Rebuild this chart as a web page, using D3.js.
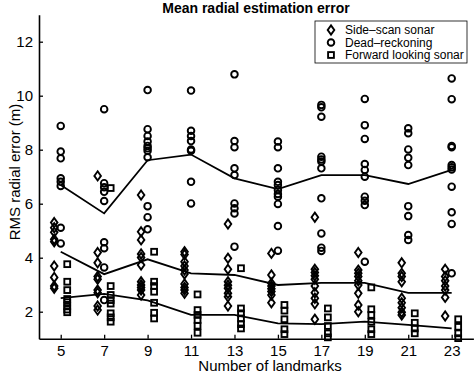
<!DOCTYPE html>
<html>
<head>
<meta charset="utf-8">
<script src="https://cdn.jsdelivr.net/npm/d3@7"></script>
<style>
body { margin: 0; background: #fff; }
text { font-family: "Liberation Sans", Arial, sans-serif; }
</style>
</head>
<body>
<script>
// landmark counts on the x axis
let landmarks = [5, 7, 9, 11, 13, 15, 17, 19, 21, 23];
let xTicks = [5, 7, 9, 11, 13, 15, 17, 19, 21, 23];
let yTicks = [2, 4, 6, 8, 10, 12];

// individual runs, one list per landmark count
let sideScan = [
  [5.30, 5.11, 4.94, 4.68, 4.59, 3.69, 3.27, 2.95, 2.87],
  [7.03, 4.19, 3.81, 3.30, 3.20, 2.80, 2.70, 2.21, 2.06],
  [6.32, 4.96, 4.66, 4.14, 4.01, 3.73, 3.11, 2.99, 2.90, 2.80, 2.62],
  [4.22, 4.12, 3.85, 3.69, 3.54, 3.40, 3.03, 2.90, 2.80, 2.68],
  [5.25, 3.98, 3.57, 3.11, 2.98, 2.87, 2.68, 2.55, 2.21],
  [4.16, 3.36, 3.05, 2.95, 2.85, 2.75, 2.62, 2.33],
  [5.50, 3.57, 3.45, 3.33, 3.20, 2.95, 2.70, 2.50, 2.29, 1.72],
  [4.19, 3.54, 3.42, 3.30, 3.15, 2.99, 2.68, 2.25, 2.00],
  [3.81, 3.42, 3.30, 3.11, 2.50, 2.33, 2.15, 1.98, 1.88],
  [3.57, 3.30, 3.15, 2.95, 2.80, 2.53, 1.84]
];
let deadReckoning = [
  [8.88, 7.93, 7.68, 6.94, 6.81, 6.66, 5.11, 4.53],
  [9.50, 6.76, 6.61, 6.44, 6.10, 4.57, 4.35, 3.64, 2.43],
  [10.21, 8.76, 8.51, 8.30, 8.14, 8.05, 7.96, 7.72, 5.91, 5.50, 5.05],
  [10.19, 8.70, 8.51, 8.32, 8.01, 7.96, 6.81, 6.01],
  [10.79, 8.32, 8.09, 7.31, 7.06, 6.01, 5.83, 5.64, 4.41],
  [8.30, 8.09, 7.31, 6.81, 6.69, 6.51, 6.36, 6.26, 5.99, 5.17, 4.26],
  [9.66, 9.57, 9.22, 7.74, 7.64, 7.56, 7.31, 6.20, 4.90, 4.37, 4.25],
  [9.88, 8.91, 8.40, 7.47, 7.25, 7.00, 6.26, 6.11, 5.95, 3.85],
  [8.79, 8.61, 8.01, 7.70, 7.43, 5.91, 5.54, 4.84, 4.66],
  [10.64, 9.87, 8.14, 8.09, 7.43, 7.35, 7.27, 6.63, 5.68, 5.25, 3.42]
];
let forwardLooking = [
  [3.76, 3.11, 2.80, 2.47, 2.35, 2.21, 2.08, 1.98],
  [6.58, 2.95, 2.62, 2.43, 2.30, 1.94, 1.79, 1.63],
  [4.22, 3.11, 2.95, 2.74, 2.33, 1.96, 1.75],
  [2.64, 2.06, 1.88, 1.69, 1.48, 1.22],
  [3.61, 2.12, 1.94, 1.75, 1.54, 1.38],
  [2.25, 2.04, 1.72, 1.35, 1.17],
  [2.12, 1.79, 1.47, 1.20, 1.05],
  [2.90, 2.09, 1.88, 1.63, 1.35, 1.17],
  [1.94, 1.59, 1.38, 1.20],
  [1.72, 1.44, 1.20, 1.02]
];

// mean curves
let meanDeadReckoning = [6.69, 5.64, 7.61, 7.82, 6.94, 6.54, 7.06, 7.06, 6.73, 7.25];
let meanSideScan = [4.22, 3.39, 3.94, 3.42, 3.36, 2.99, 3.07, 3.07, 2.70, 2.70];
let meanForward = [2.50, 2.66, 2.42, 1.88, 1.88, 1.57, 1.54, 1.63, 1.51, 1.38];

let legendNames = ["Side\u2013scan sonar", "Dead\u2013reckoning", "Forward looking sonar"];

let svg = d3.select("body").append("svg")
  .attr("width", 474)
  .attr("height", 373);

let x = d3.scaleLinear().domain([4, 24]).range([39, 473.4]);
let y = d3.scaleLinear().domain([1, 13]).range([338.7, 14.7]);

// axes, ticks pointing inward
let xAxis = svg.append("g")
  .attr("transform", "translate(0," + y(1) + ")")
  .call(d3.axisBottom(x).tickValues(xTicks).tickSizeInner(-4).tickSizeOuter(0).tickPadding(7));
let yAxis = svg.append("g")
  .attr("transform", "translate(" + x(4) + ",0)")
  .call(d3.axisLeft(y).tickValues(yTicks).tickSizeInner(-4).tickSizeOuter(0).tickPadding(6));

[xAxis, yAxis].forEach(function (g) {
  g.select(".domain").attr("stroke", "#000").attr("stroke-width", 1.6);
  g.selectAll(".tick line").attr("stroke", "#000").attr("stroke-width", 1.3);
  g.selectAll(".tick text")
    .style("font-family", "'Liberation Sans', Arial, sans-serif")
    .style("font-size", "15px")
    .attr("fill", "#000");
});

function addDiamond(cx, cy) {
  svg.append("path")
    .attr("d", "M" + cx + "," + (cy - 4.6) + "L" + (cx + 3.3) + "," + cy +
      "L" + cx + "," + (cy + 4.6) + "L" + (cx - 3.3) + "," + cy + "Z")
    .attr("fill", "none")
    .attr("stroke", "#000")
    .attr("stroke-width", 1.9);
}

function addCircle(cx, cy) {
  svg.append("circle")
    .attr("cx", cx)
    .attr("cy", cy)
    .attr("r", 3.3)
    .attr("fill", "none")
    .attr("stroke", "#000")
    .attr("stroke-width", 1.9);
}

function addSquare(cx, cy) {
  svg.append("rect")
    .attr("x", cx - 2.9)
    .attr("y", cy - 2.9)
    .attr("width", 5.8)
    .attr("height", 5.8)
    .attr("fill", "none")
    .attr("stroke", "#000")
    .attr("stroke-width", 1.9);
}

for (let i = 0; i < landmarks.length; i++) {
  sideScan[i].forEach(function (v) { addDiamond(x(landmarks[i] - 0.3), y(v)); });
  deadReckoning[i].forEach(function (v) { addCircle(x(landmarks[i]), y(v)); });
  forwardLooking[i].forEach(function (v) { addSquare(x(landmarks[i] + 0.3), y(v)); });
}

let line = d3.line()
  .x(function (d, i) { return x(landmarks[i]); })
  .y(function (d) { return y(d); });

[meanDeadReckoning, meanSideScan, meanForward].forEach(function (s) {
  svg.append("path")
    .attr("d", line(s))
    .attr("fill", "none")
    .attr("stroke", "#000")
    .attr("stroke-width", 1.8);
});

// title and labels
svg.append("text")
  .attr("x", 256)
  .attr("y", 12.5)
  .attr("text-anchor", "middle")
  .style("font-size", "14px")
  .style("font-weight", "bold")
  .text("Mean radial estimation error");

svg.append("text")
  .attr("x", 270)
  .attr("y", 370.5)
  .attr("text-anchor", "middle")
  .style("font-size", "15px")
  .text("Number of landmarks");

svg.append("text")
  .attr("transform", "translate(20,172) rotate(-90)")
  .attr("text-anchor", "middle")
  .style("font-size", "15px")
  .text("RMS radial error (m)");

// legend
let legend = svg.append("g");
legend.append("rect")
  .attr("x", 315)
  .attr("y", 21)
  .attr("width", 152)
  .attr("height", 42)
  .attr("fill", "#fff")
  .attr("stroke", "#000")
  .attr("stroke-width", 0.8);

let markers = [addDiamond, addCircle, addSquare];
legendNames.forEach(function (name, i) {
  let ly = 30 + i * 12.5;
  markers[i](331, ly);
  legend.append("text")
    .attr("x", 345)
    .attr("y", ly + 4.3)
    .style("font-size", "12px")
    .text(name);
});
</script>
</body>
</html>
